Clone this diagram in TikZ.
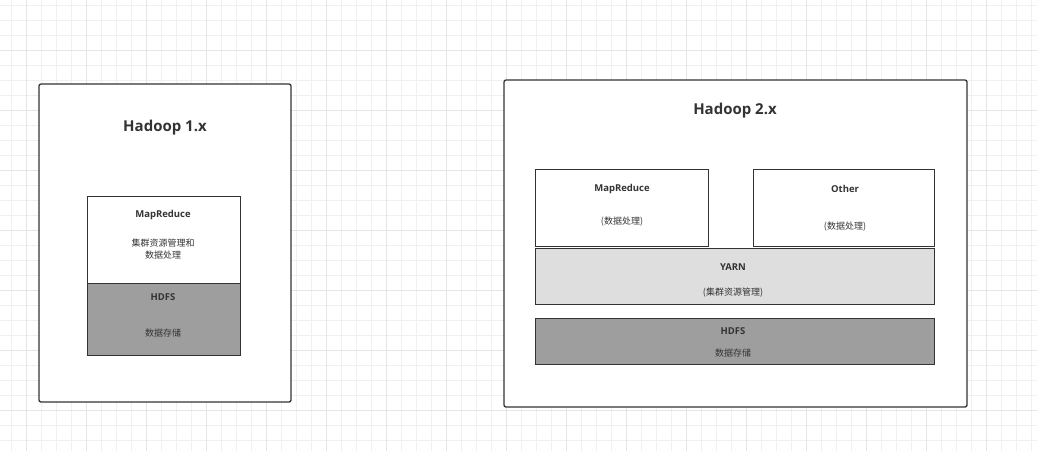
\documentclass[tikz,border=0pt]{standalone}
\usepackage{fontspec}
\setmainfont{Open Sans}
\newfontfamily\cjk{Noto Sans CJK SC}
\begin{document}
\begin{tikzpicture}[x=1pt,y=-1pt,
  frame/.style={draw=black!80,line width=1.3pt,rounded corners=2pt,fill=white},
  blk/.style={draw=black!80,line width=1pt},
  ttl/.style={font=\bfseries\fontsize{15}{18}\selectfont,text=black!80},
  lbl/.style={font=\bfseries\fontsize{9.5}{12}\selectfont,text=black!80},
  sub/.style={font=\cjk\fontsize{9}{12}\selectfont,text=black!80,align=center}]
\useasboundingbox (0,0) rectangle (1037,451);
\fill[white] (0,0) rectangle (1037,451);
\foreach \x in {11,26,...,1037} \draw[black!6,line width=0.6pt] (\x,0) -- (\x,451);
\foreach \y in {5,20,...,451} \draw[black!6,line width=0.6pt] (0,\y) -- (1037,\y);
\foreach \x in {26,86,...,1037} \draw[black!10,line width=0.8pt] (\x,0) -- (\x,451);
\foreach \y in {50,110,...,451} \draw[black!10,line width=0.8pt] (0,\y) -- (1037,\y);
% left
\draw[frame] (39,84) rectangle (291,402);
\node[ttl] (t1) at (165,128) {Hadoop 1.x};
\draw[blk,fill=white] (87,196) rectangle (240,283);
\draw[blk,fill=black!38] (87,283) rectangle (240,355);
\node[lbl] (mr1) at (163,215) {MapReduce};
\node[sub] (mr1s) at (163,249) {集群资源管理和\\数据处理};
\node[lbl] (h1) at (163,297) {HDFS};
\node[sub] (h1s) at (163,333) {数据存储};
% right
\draw[frame] (504,80) rectangle (967,407);
\node[ttl] (t2) at (735,111) {Hadoop 2.x};
\draw[blk,fill=white] (535,169) rectangle (708,246);
\draw[blk,fill=white] (753,169) rectangle (934,246);
\draw[blk,fill=black!13] (535,248) rectangle (934,304);
\draw[blk,fill=black!38] (535,318) rectangle (934,364);
\node[lbl] (mr2) at (622,189) {MapReduce};
\node[sub] (mr2s) at (622,222) {(数据处理)};
\node[lbl] (o2) at (845,189) {Other};
\node[sub] (o2s) at (845,227) {(数据处理)};
\node[lbl] (y2) at (733,267) {YARN};
\node[sub] (y2s) at (733,293) {(集群资源管理)};
\node[lbl] (h2) at (733,331) {HDFS};
\node[sub] (h2s) at (733,353) {数据存储};
\end{tikzpicture}
\end{document}
